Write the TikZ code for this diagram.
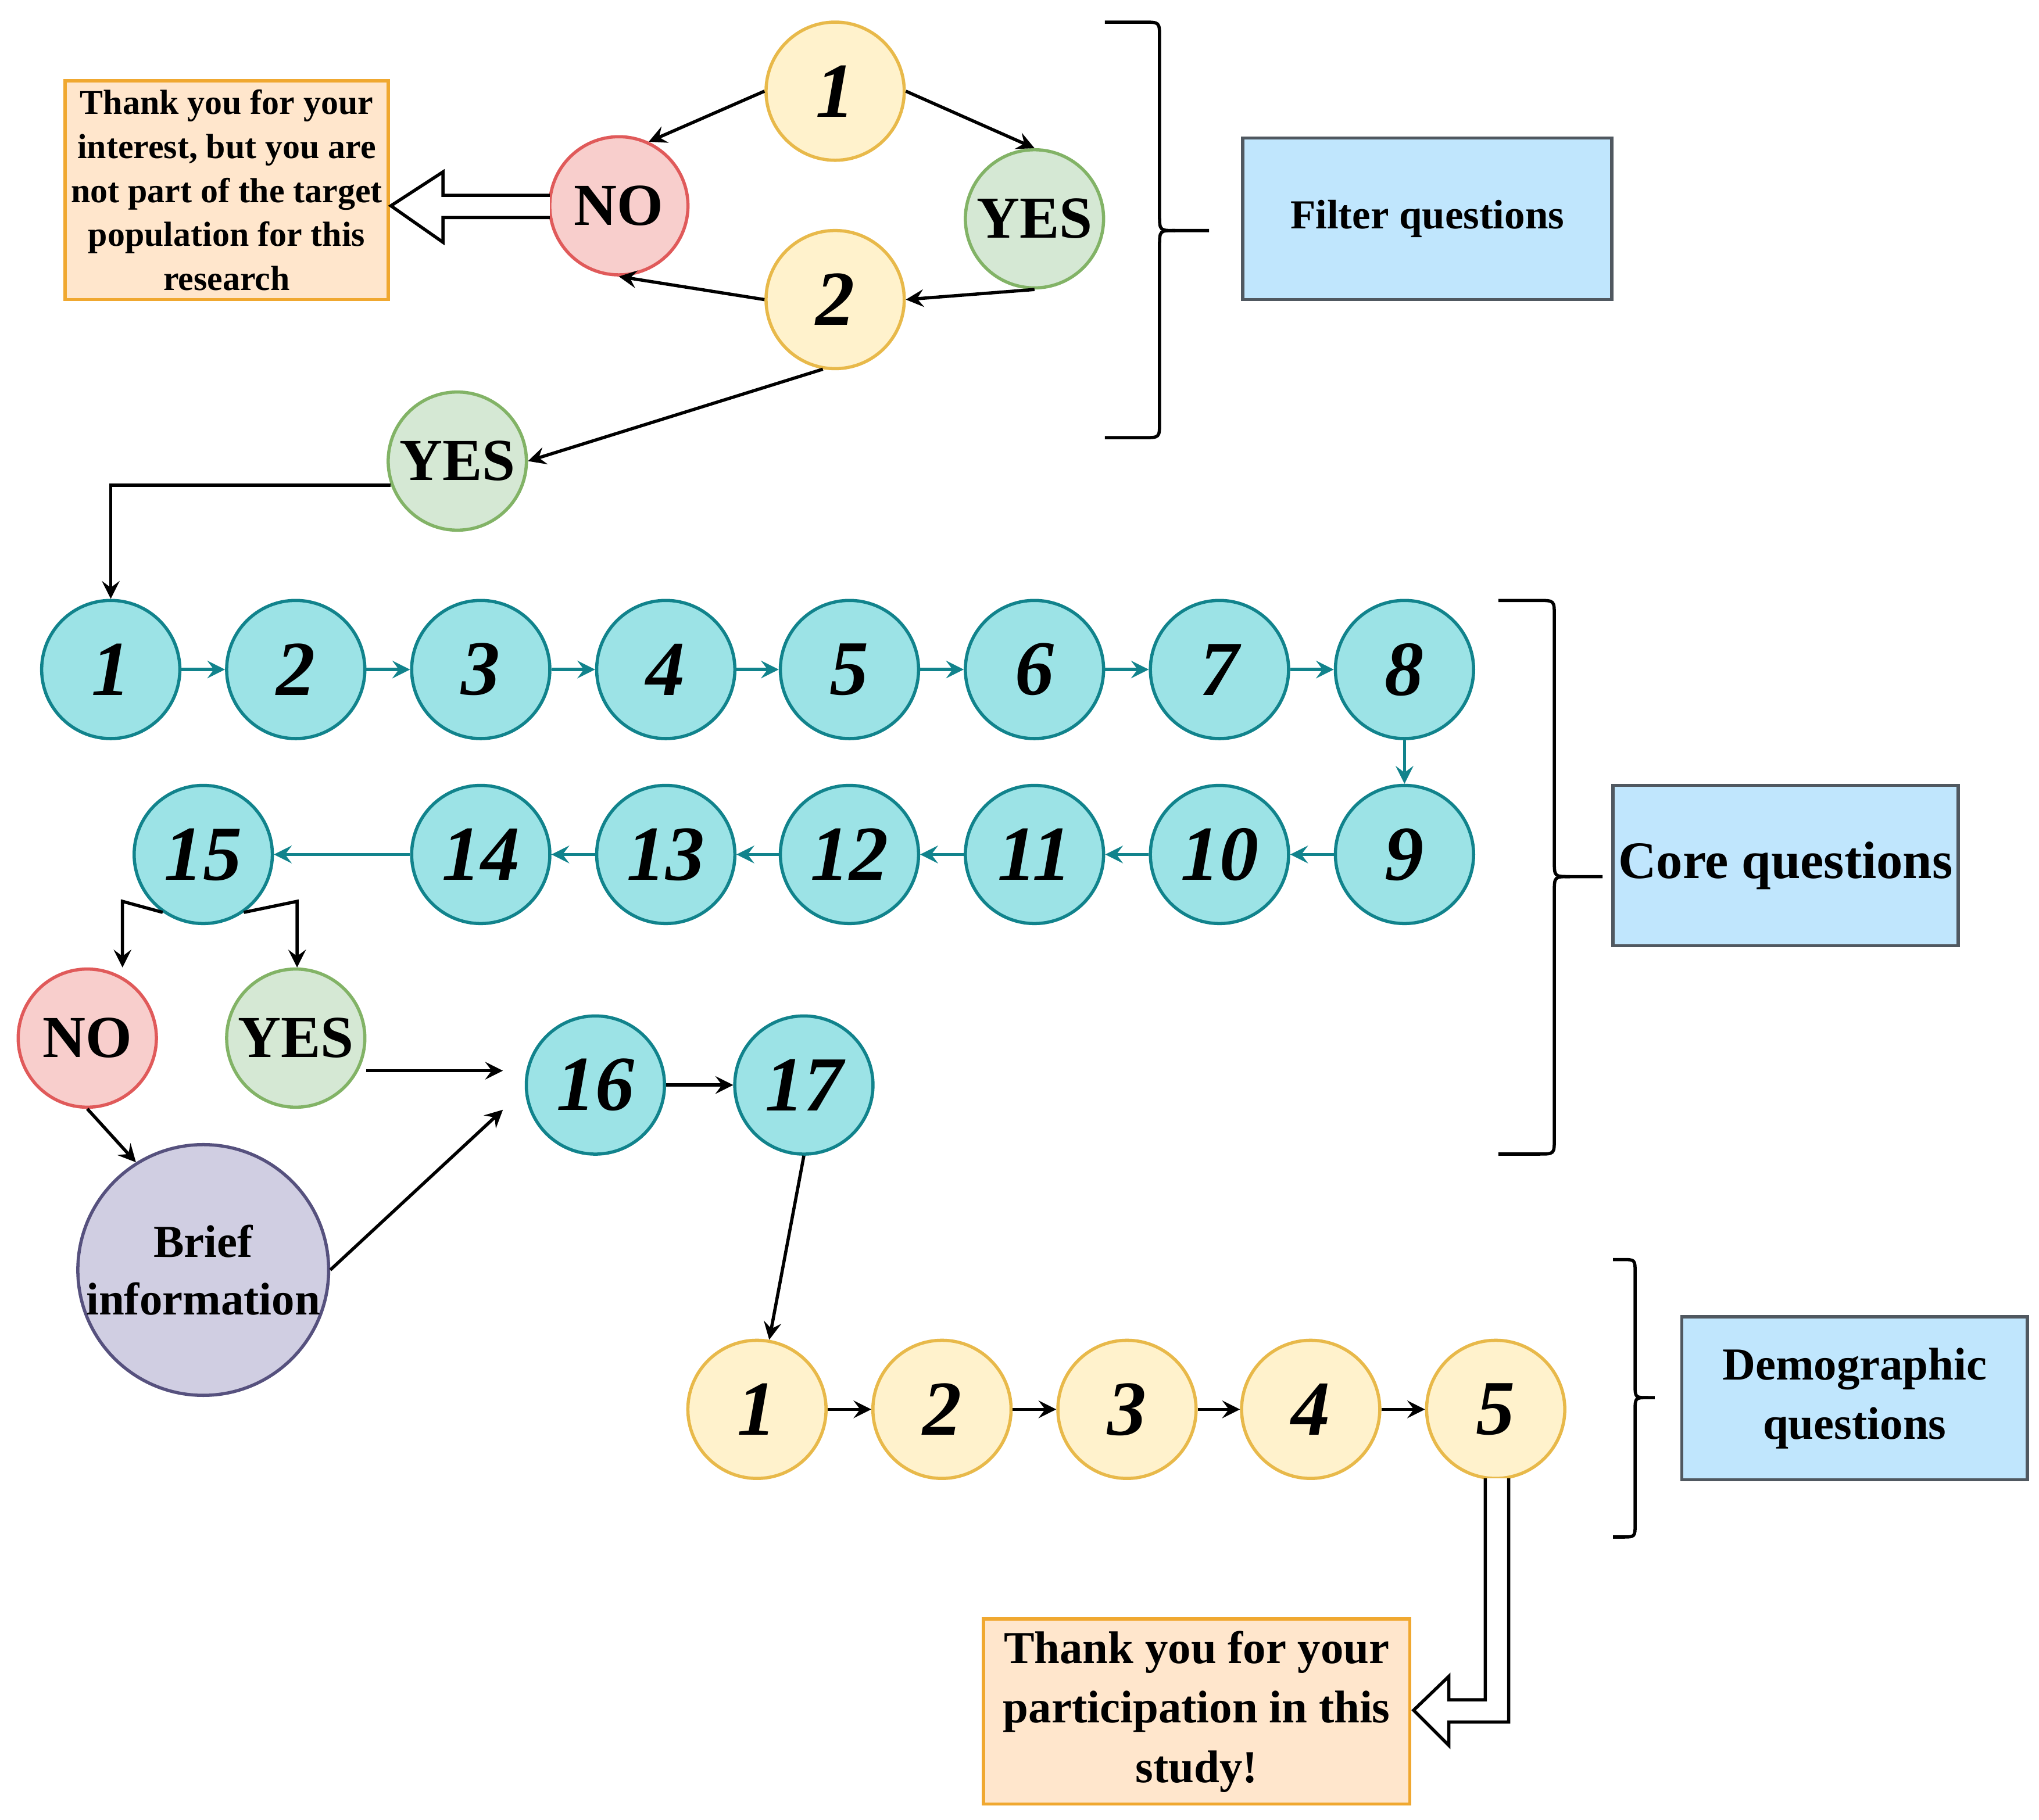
\documentclass[tikz,border=0pt]{standalone}
\usepackage{fontspec}
\setmainfont{Liberation Serif}
\begin{document}
\begin{tikzpicture}[x=0.01cm,y=-0.01cm,
 c/.style={circle,minimum size=1.06cm,inner sep=0pt,line width=0.7pt,font=\fontsize{17}{17}\selectfont\bfseries\itshape},
 yel/.style={c,fill=ylf,draw=ylb},
 tea/.style={c,fill=tlf,draw=tlb},
 red/.style={c,fill=rdf,draw=rdb,font=\fontsize{13}{13}\selectfont\bfseries},
 grn/.style={c,fill=grf,draw=grb,font=\fontsize{13}{13}\selectfont\bfseries},
 ar/.style={-stealth,line width=0.7pt},
 tar/.style={-stealth,line width=0.7pt,draw=tlb},
 brace/.style={line width=0.7pt},
 bx/.style={draw=bxb,fill=bxf,line width=0.7pt,align=center,font=\bfseries,inner sep=0pt},
 ob/.style={draw=obb,fill=obf,line width=0.7pt,align=center,font=\bfseries,inner sep=0pt}]
\definecolor{ylf}{HTML}{FFF2CC}\definecolor{ylb}{HTML}{E8B94A}
\definecolor{tlf}{HTML}{9CE3E6}\definecolor{tlb}{HTML}{11838C}
\definecolor{rdf}{HTML}{F8CECC}\definecolor{rdb}{HTML}{E05A5A}
\definecolor{grf}{HTML}{D5E8D4}\definecolor{grb}{HTML}{82B366}
\definecolor{bxf}{HTML}{C0E6FD}\definecolor{bxb}{HTML}{505860}
\definecolor{obf}{HTML}{FFE6CC}\definecolor{obb}{HTML}{F0A830}
\definecolor{puf}{HTML}{D0CEE2}\definecolor{pub}{HTML}{56517E}
\useasboundingbox (0,0) rectangle (1565,1397);
% filter
\node[yel] (f1) at (641,70) {1};
\node[red] (no1) at (475,158) {NO};
\node[grn] (y1) at (794,168) {YES};
\node[yel] (f2) at (641,230) {2};
\node[grn] (y2) at (351,354) {YES};
\draw[ar] (f1.west) -- (no1.65);
\draw[ar] (f1.east) -- (y1.north);
\draw[ar] (y1.south) -- (f2.east);
\draw[ar] (f2.west) -- (no1.south);
\draw[ar] (f2.260) -- (y2.east);
\node[ob,minimum width=2.48cm,minimum height=1.68cm,font=\fontsize{7.6}{9.6}\selectfont\bfseries] (tb1) at (174,146) {Thank you for your\\interest, but you are\\not part of the target\\population for this\\research};
\draw[line width=0.7pt,fill=white] (422,150)--(340,150)--(340,132)--(300,158)--(340,186)--(340,167)--(422,167);
\draw[brace] (848,17)--(878,17) .. controls (890,17) .. (890,29) -- (890,165) .. controls (890,177) .. (902,177) -- (928,177);
\draw[brace] (848,336)--(878,336) .. controls (890,336) .. (890,324) -- (890,189) .. controls (890,177) .. (902,177);
\node[bx,minimum width=2.83cm,minimum height=1.24cm,font=\fontsize{9}{11}\selectfont\bfseries] (fq) at (1095.5,168) {Filter questions};
% core
\foreach \n/\x in {1/85,2/227,3/369,4/511,5/652,6/794,7/936,8/1078}
  \node[tea] (r\n) at (\x,514) {\n};
\foreach \n/\x in {9/1078,10/936,11/794,12/652,13/511,14/369,15/156}
  \node[tea] (r\n) at (\x,656) {\n};
\foreach \a/\b in {1/2,2/3,3/4,4/5,5/6,6/7,7/8,8/9,9/10,10/11,11/12,12/13,13/14,14/15}
  \draw[tar] (r\a) -- (r\b);
\draw[ar] (y2.200) -| (r1.north);
\node[red] (no2) at (67,797) {NO};
\node[grn] (y3) at (227,797) {YES};
\coordinate (k1) at (94,692);
\coordinate (k2) at (228,692);
\draw[ar] (r15.235) -- (k1) -- (k1 |- no2.north);
\draw[ar] (r15.305) -- (k2) -- (k2 |- y3.north);
\node[tea] (r16) at (457,833) {16};
\node[tea] (r17) at (617,833) {17};
\draw[ar] (r16) -- (r17);
\coordinate (e1) at (386,822);
\coordinate (e2) at (386,852);
\draw[ar] (y3.east |- e1) -- (e1);
\node[circle,minimum size=1.76cm,fill=puf,draw=pub,line width=0.7pt,align=center,inner sep=0pt,font=\fontsize{10}{12.5}\selectfont\bfseries] (bi) at (156,975) {Brief\\information};
\draw[ar] (no2.south) -- (bi.122);
\draw[ar] (bi.east) -- (e2);
\draw[brace] (1150,461)--(1181,461) .. controls (1193,461) .. (1193,473) -- (1193,661) .. controls (1193,673) .. (1205,673) -- (1230,673);
\draw[brace] (1150,886)--(1181,886) .. controls (1193,886) .. (1193,874) -- (1193,685) .. controls (1193,673) .. (1205,673);
\node[bx,minimum width=2.65cm,minimum height=1.23cm,font=\fontsize{11.5}{14}\selectfont\bfseries] (cq) at (1370.5,664.5) {Core questions};
% demographic
\foreach \n/\x in {1/581,2/723,3/865,4/1006,5/1148}
  \node[yel] (d\n) at (\x,1082) {\n};
\foreach \a/\b in {1/2,2/3,3/4,4/5} \draw[ar] (d\a) -- (d\b);
\draw[ar] (r17.south) -- (d1.80);
\draw[brace] (1238,967)--(1245,967) .. controls (1255,967) .. (1255,977) -- (1255,1063) .. controls (1255,1073) .. (1265,1073) -- (1270,1073);
\draw[brace] (1238,1180)--(1245,1180) .. controls (1255,1180) .. (1255,1170) -- (1255,1083) .. controls (1255,1073) .. (1265,1073);
\node[bx,minimum width=2.65cm,minimum height=1.25cm,font=\fontsize{10}{13}\selectfont\bfseries] (dq) at (1423.5,1073.5) {Demographic\\questions};
\node[ob,minimum width=3.27cm,minimum height=1.42cm,font=\fontsize{10}{13}\selectfont\bfseries] (tb2) at (918.5,1314) {Thank you for your\\participation in this\\study!};
\draw[line width=0.7pt,fill=white] (1140,1135)--(1140,1305)--(1112,1305)--(1112,1287)--(1085,1313)--(1112,1340)--(1112,1322)--(1158,1322)--(1158,1135);
\end{tikzpicture}
\end{document}
